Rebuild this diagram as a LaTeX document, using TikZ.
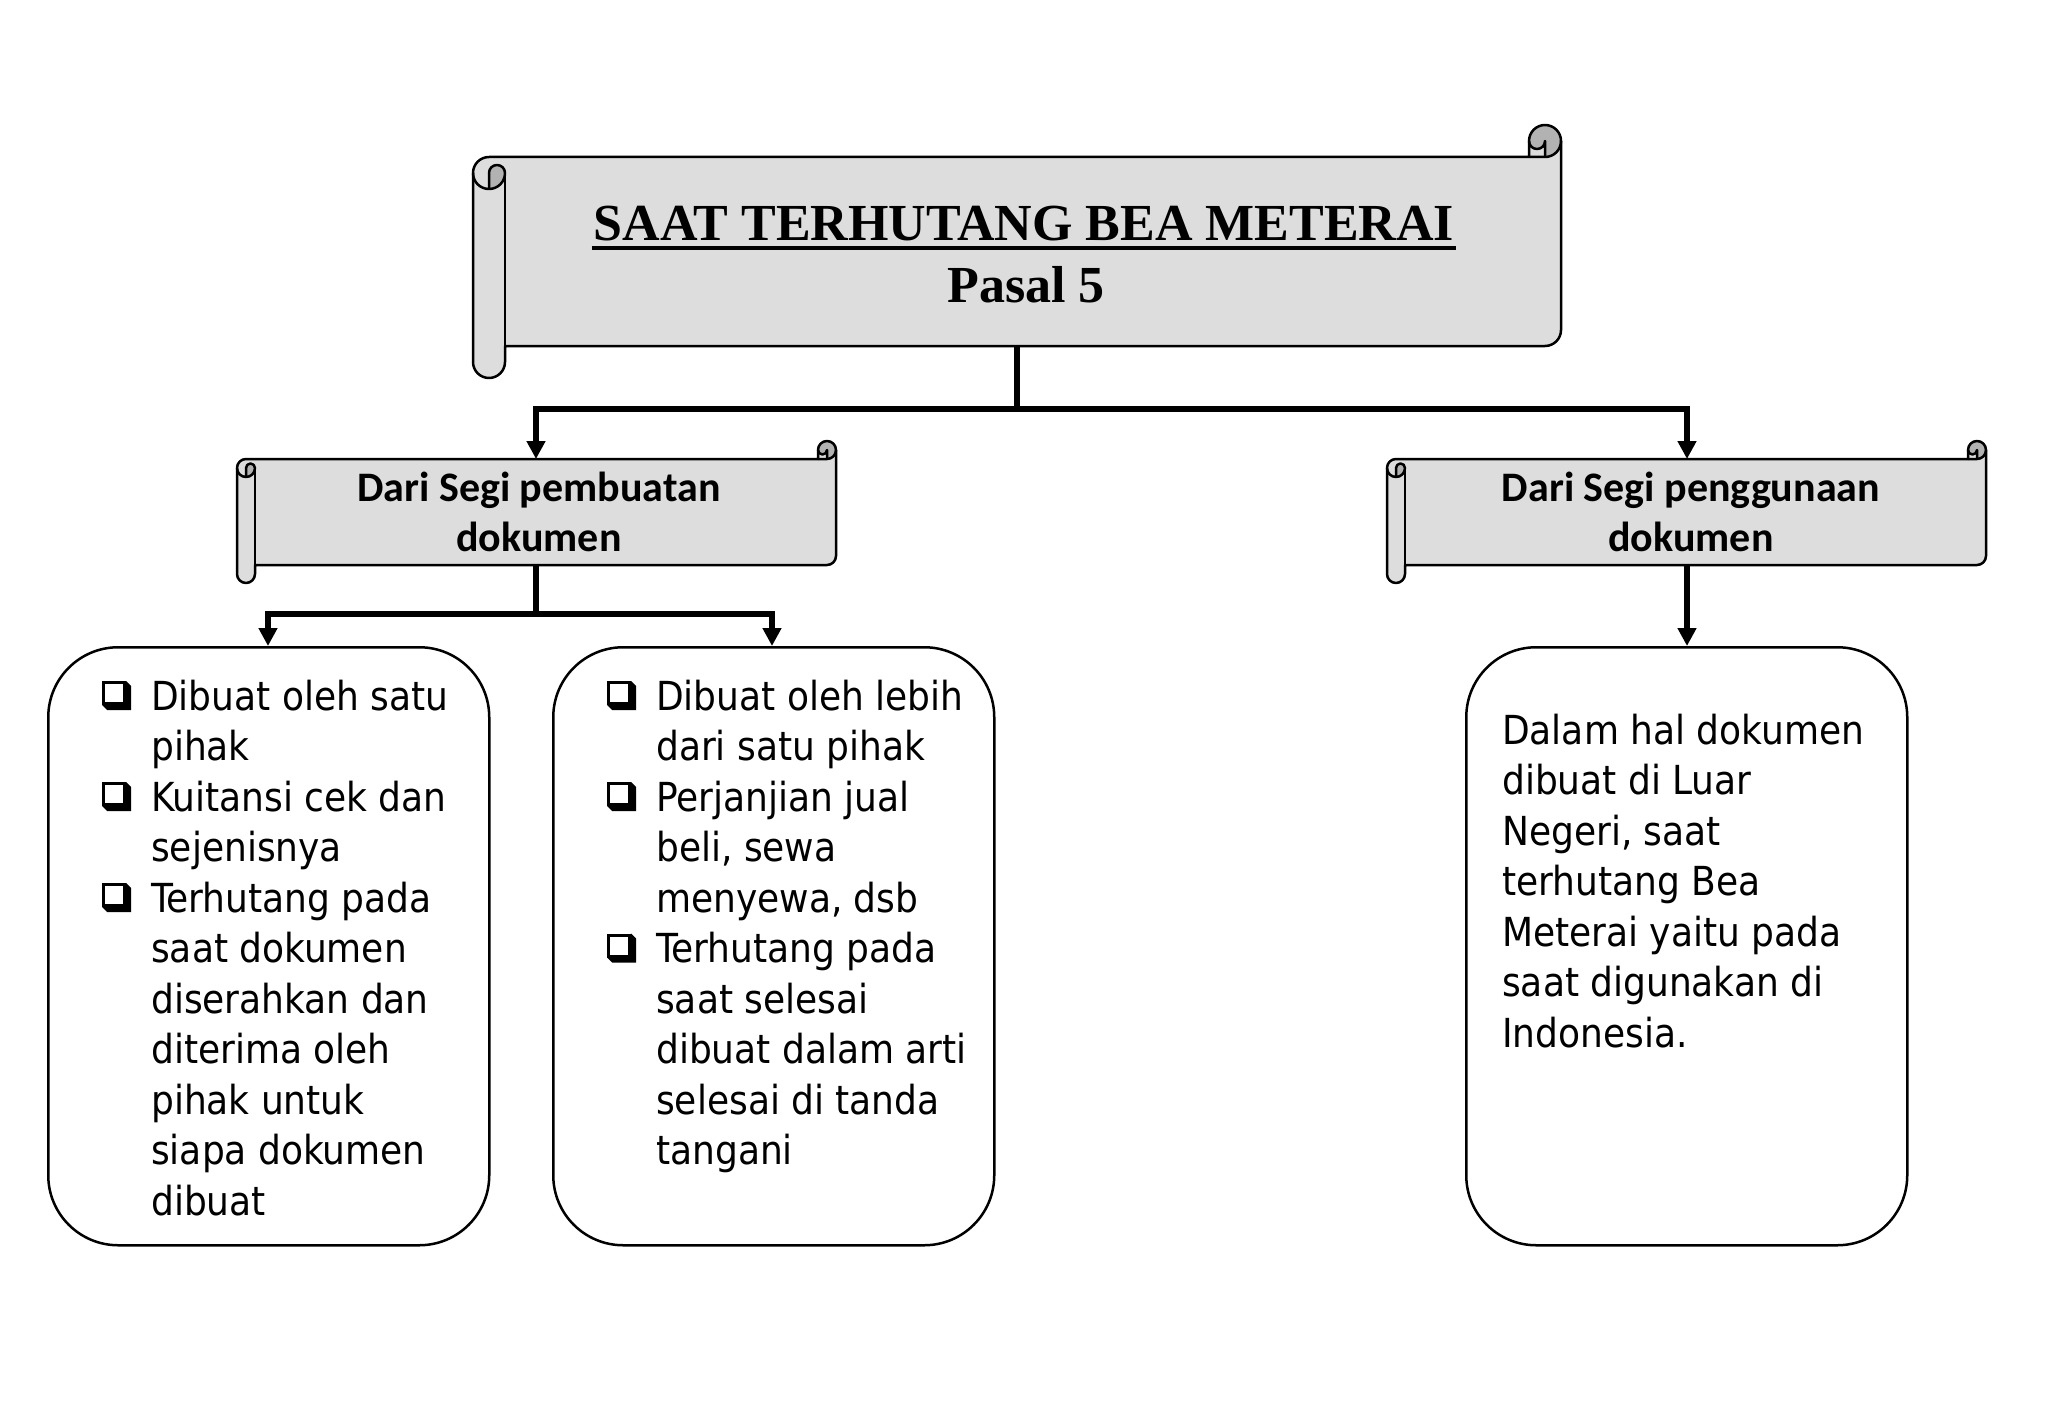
\documentclass[tikz,border=0pt]{standalone}
\usepackage{fontspec}
\usetikzlibrary{arrows.meta}
\setmainfont{Liberation Serif}
\newfontfamily\calfont{Carlito}
\newfontfamily\tahfont{DejaVu Sans Condensed}
\definecolor{scrollfill}{RGB}{221,221,221}
\definecolor{scrolldark}{RGB}{178,178,178}
\newcommand{\qb}{\makebox[49pt][l]{\tikz[baseline=0pt,x=1pt,y=1pt]{\fill[black] (0,5) -- (5,0) -- (29,0) -- (29,24) -- (24,29) -- (24,5) -- cycle; \draw[line width=3pt] (1.5,6.5) rectangle (22.5,27.5);}}}
\newcommand{\ind}{\hspace*{49pt}}
% horizontal scroll: #1 L, #2 T, #3 R, #4 B, #5 roll size
\newcommand{\hscroll}[5]{%
 \begin{scope}[shift={(#1,-#2)}]
 \pgfmathsetmacro\sw{#3-#1}%
 \pgfmathsetmacro\sH{#4-#2}%
 \pgfmathsetmacro\sc{#5}%
 \pgfmathsetmacro\sh{#5/2}%
 \pgfmathsetmacro\sq{#5/4}%
 \pgfmathsetmacro\scph{#5*1.5}%
 \pgfmathsetmacro\stc{#5*2}%
 \pgfmathsetmacro\swc{\sw-\sc}%
 \pgfmathsetmacro\swh{\sw-\sh}%
 \pgfmathsetmacro\sHc{\sH-\sc}%
 \pgfmathsetmacro\sHch{\sH-\sc-\sh}%
 \pgfmathsetmacro\sHh{\sH-\sh}%
 \path[fill=scrollfill] (0,-\scph) arc[start angle=180,delta angle=-90,radius=\sh pt]
   -- (\swc,-\sc) -- (\swc,-\sh) arc[start angle=180,delta angle=-180,radius=\sh pt]
   -- (\sw,-\sHch) arc[start angle=0,delta angle=-90,radius=\sh pt]
   -- (\sc,-\sHc) -- (\sc,-\sHh) arc[start angle=0,delta angle=-180,radius=\sh pt] -- cycle;
 \path[fill=scrolldark] (\sh,-\stc) arc[start angle=-90,delta angle=90,radius=\sh pt]
   arc[start angle=0,delta angle=180,radius=\sq pt] -- cycle;
 \path[fill=scrolldark] (\swh,-\sc) arc[start angle=-90,delta angle=270,radius=\sh pt]
   arc[start angle=180,delta angle=180,radius=\sq pt] -- cycle;
 \draw[scrollline] (0,-\scph) arc[start angle=180,delta angle=-90,radius=\sh pt]
   -- (\swc,-\sc) -- (\swc,-\sh) arc[start angle=180,delta angle=-180,radius=\sh pt]
   -- (\sw,-\sHch) arc[start angle=0,delta angle=-90,radius=\sh pt]
   -- (\sc,-\sHc) -- (\sc,-\sHh) arc[start angle=0,delta angle=-180,radius=\sh pt] -- cycle;
 \draw[scrollline] (\swc,-\sc) -- (\swh,-\sc) arc[start angle=-90,delta angle=90,radius=\sh pt];
 \draw[scrollline] (\swh,-\sc) -- (\swh,-\sh) arc[start angle=0,delta angle=-180,radius=\sq pt];
 \draw[scrollline] (\sh,-\stc) -- (\sh,-\scph) arc[start angle=180,delta angle=-180,radius=\sq pt]
   arc[start angle=0,delta angle=-180,radius=\sh pt];
 \draw[scrollline] (\sc,-\scph) -- (\sc,-\sHc);
 \end{scope}}
\tikzset{
 scrollline/.style={line width=2.5pt, line join=round},
 conn/.style={line width=5.5pt, line join=miter},
 arr/.style={conn, -{Triangle[width=18pt,length=18pt]}},
 boxshape/.style={draw, line width=2.5pt, rounded corners=70pt, fill=white},
 titletxt/.style={font=\bfseries\fontsize{52}{62}\selectfont, inner sep=0pt},
 lbltxt/.style={font=\calfont\bfseries\fontsize{42}{50}\selectfont, inner sep=0pt, align=center},
 bodytxt/.style={font=\tahfont\fontsize{40}{50.5}\selectfont, inner sep=0pt, align=left},
}
\begin{document}
\begin{tikzpicture}[x=1pt,y=1pt]
\useasboundingbox (0,0) rectangle (2048,-1418);
\fill[white] (0,0) rectangle (2048,-1418);
% scrolls
\hscroll{473}{125}{1561}{378}{32}
\hscroll{237}{441}{836}{583}{18}
\hscroll{1387}{441}{1986}{583}{18}
% title
\node[titletxt, anchor=base] (t1) at (1024,-240) {SAAT TERHUTANG BEA METERAI};
\node[titletxt, anchor=base] (t2) at (1026,-302) {Pasal 5};
\draw[line width=4.5pt] ([xshift=-2pt,yshift=-8pt]t1.base west) -- ([xshift=2pt,yshift=-8pt]t1.base east);
% scroll labels (base = last line)
\node[lbltxt, anchor=base] (ls) at (539,-551) {Dari Segi pembuatan\\dokumen};
\node[lbltxt, anchor=base] (rs) at (1691,-551) {Dari Segi penggunaan\\dokumen};
% boxes
\node[boxshape, minimum width=441pt, minimum height=598pt, anchor=north west] (b1) at (47,-646) {};
\node[boxshape, minimum width=441pt, minimum height=598pt, anchor=north west] (b2) at (552,-646) {};
\node[boxshape, minimum width=441pt, minimum height=598pt, anchor=north west] (b3) at (1465,-646) {};
% connector points
\coordinate (tS) at (1017,-346);
\coordinate (tJ) at (1017,-409);
\coordinate (lsN) at (536,-459);
\coordinate (rsN) at (1687,-459);
\coordinate (lsS) at (536,-565);
\coordinate (lJ) at (536,-614);
\coordinate (rsS) at (1687,-565);
\coordinate (b1N) at (268,-646);
\coordinate (b2N) at (772,-646);
\coordinate (b3N) at (1687,-646);
\draw[conn] (tS) -- (tJ);
\draw[arr] (tJ) -| (lsN);
\draw[arr] (tJ) -| (rsN);
\draw[conn] (lsS) -- (lJ);
\draw[arr] (lJ) -| (b1N);
\draw[arr] (lJ) -| (b2N);
\draw[arr] (rsS) -- (b3N);
% box texts (base = last line)
\node[bodytxt, anchor=base west] (b1t) at (102,-1215) {\qb Dibuat oleh satu\\\ind pihak\\\qb Kuitansi cek dan\\\ind sejenisnya\\\qb Terhutang pada\\\ind saat dokumen\\\ind diserahkan dan\\\ind diterima oleh\\\ind pihak untuk\\\ind siapa dokumen\\\ind dibuat};
\node[bodytxt, anchor=base west] (b2t) at (607,-1164.5) {\qb Dibuat oleh lebih\\\ind dari satu pihak\\\qb Perjanjian jual\\\ind beli, sewa\\\ind menyewa, dsb\\\qb Terhutang pada\\\ind saat selesai\\\ind dibuat dalam arti\\\ind selesai di tanda\\\ind tangani};
\node[bodytxt, anchor=base west] (b3t) at (1502,-1047) {Dalam hal dokumen\\dibuat di Luar\\Negeri, saat\\terhutang Bea\\Meterai yaitu pada\\saat digunakan di\\Indonesia.};
\end{tikzpicture}
\end{document}
